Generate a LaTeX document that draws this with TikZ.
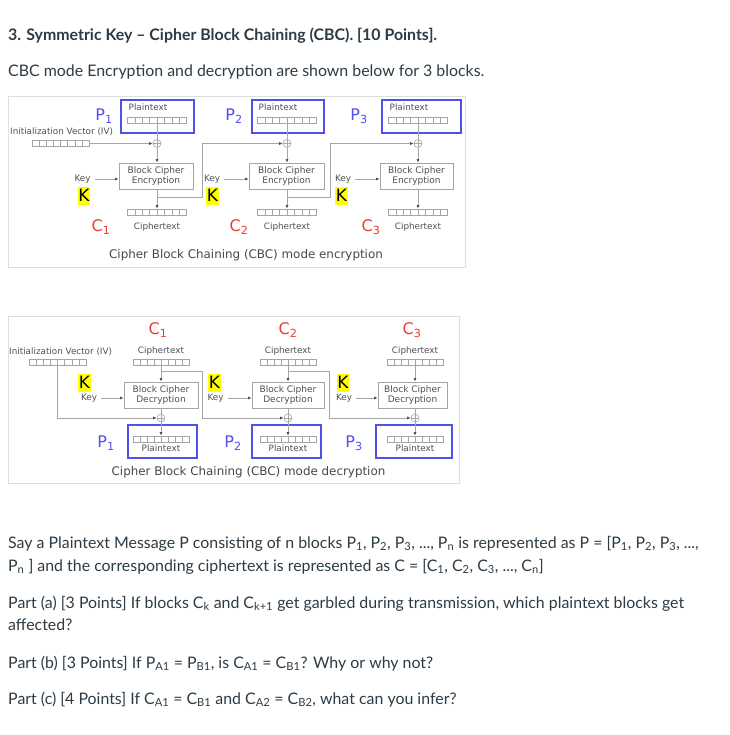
\documentclass[tikz,border=0pt]{standalone}
\usepackage{fontspec}
\setmainfont{Lato}
\newfontfamily\dv{DejaVu Sans}
\usetikzlibrary{arrows.meta,calc}
\definecolor{txt}{HTML}{2D3B45}
\definecolor{pblue}{RGB}{80,80,235}
\definecolor{cred}{RGB}{235,60,50}
\definecolor{kyel}{RGB}{255,255,0}
\definecolor{lgray}{RGB}{165,165,165}
\definecolor{dgray}{RGB}{80,80,80}
\definecolor{framec}{RGB}{222,222,222}
\newcommand{\mysub}[1]{\textsubscript{#1}}
\tikzset{
  bodytxt/.style={anchor=base west, inner sep=0, text=txt, font=\fontsize{15.9}{18}\selectfont},
  lbl/.style={font=\dv\fontsize{8.8}{9.5}\selectfont, text=dgray, inner sep=0},
  captxt/.style={font=\dv\fontsize{11.9}{13}\selectfont, text=dgray!90!black, inner sep=0},
  cipherbox/.style={draw=lgray, line width=0.7pt, font=\dv\fontsize{9}{10}\selectfont, text=dgray, align=center, minimum height=26, inner sep=0},
  ptbox/.style={draw=pblue, line width=1.2pt, minimum height=33, inner sep=0},
  cellrow/.style={draw=lgray, line width=0.6pt, minimum width=59, minimum height=6, inner sep=0,
    path picture={\foreach \j in {1,...,7}{\draw[lgray,line width=0.5pt]
      ($(path picture bounding box.south west)!\j/8!(path picture bounding box.south east)$) --
      ($(path picture bounding box.north west)!\j/8!(path picture bounding box.north east)$);}}},
  xorc/.style={circle, draw=lgray, line width=0.6pt, minimum size=8, inner sep=0,
    path picture={\draw[lgray,line width=0.6pt] (path picture bounding box.north) -- (path picture bounding box.south)
      (path picture bounding box.west) -- (path picture bounding box.east);}},
  ln/.style={draw=lgray, line width=0.7pt},
  arr/.style={draw=lgray, line width=0.7pt, -{Latex[length=3.5pt,width=3pt,color=dgray]}},
  plab/.style={font=\dv\fontsize{16}{16}\selectfont, text=pblue, inner sep=0},
  clab/.style={font=\dv\fontsize{16}{16}\selectfont, text=cred, inner sep=0},
  kbox/.style={fill=kyel, font=\dv\fontsize{17}{17}\selectfont, text=black, text height=13, text depth=3, inner xsep=0.5, inner ysep=1},
  panelbox/.style={draw=framec, line width=0.8pt, inner sep=0}
}
\begin{document}
\begin{tikzpicture}[x=1pt,y=-1pt]
\useasboundingbox (0,0) rectangle (729,735);
\fill[white] (0,0) rectangle (729,735);

% header
\node[bodytxt, font=\fontsize{15.9}{18}\selectfont\bfseries] (title) at (8,41) {3. Symmetric Key – Cipher Block Chaining (CBC). [10 Points].};
\node[bodytxt] (intro) at (8,77) {CBC mode Encryption and decryption are shown below for 3 blocks.};

% ---------- encryption ----------
\node[panelbox, minimum width=457, minimum height=171] (encpanel) at (236.5,181.5) {};
\node[lbl, anchor=west] (ivle) at (10,132) {Initialization Vector (IV)};
\node[cellrow, minimum width=57] (ive) at (60.5,143.5) {};

\foreach \i/\cx/\pl/\cl/\kx/\kk/\bl/\br/\ptl/\ptr in {
  1/157/104/101/82.5/84/119/193/121/194,
  2/287/234/239/212/212.5/249/324/252/324,
  3/418/359/371/343/341.5/380/453/382/461}{
  \node[ptbox, minimum width={\ptr-\ptl}] (pe\i) at ({(\ptl+\ptr)/2},116.5) {};
  \node[cellrow] (pc\i) at (\cx,120) {};
  \node[lbl, anchor=base west] (pt\i) at ({\cx-28.5},111) {Plaintext};
  \node[xorc] (xe\i) at (\cx,143.5) {};
  \node[cipherbox, minimum width={\br-\bl}] (be\i) at ({(\bl+\br)/2},176) {Block Cipher\\Encryption};
  \node[cellrow] (ce\i) at (\cx,212) {};
  \node[lbl] (ct\i) at (\cx,227) {Ciphertext};
  \node[plab] (P\i) at (\pl,116) {P\mysub{\i}};
  \node[clab] (C\i) at (\cl,227) {C\mysub{\i}};
  \node[lbl] (key\i) at (\kx,179) {Key};
  \node[kbox] (K\i) at (\kk,196) {K};
  \draw[ln] (pc\i.south) -- (xe\i.north);
  \draw[arr] (xe\i.south) -- (be\i.north -| xe\i);
  \draw[arr] (be\i.south -| ce\i) -- (ce\i.north);
  \draw[arr] ([xshift=4pt]key\i.east) -- (key\i.east -| be\i.west);
}
\draw[arr] (ive.east) -- (xe1.west);
\coordinate (je1) at (157,197);
\coordinate (he1) at (202,197);
\draw[arr] (je1) -- (he1) |- (xe2.west);
\coordinate (je2) at (287,197);
\coordinate (he2) at (330,197);
\draw[arr] (je2) -- (he2) |- (xe3.west);
\node[captxt] (cape) at (246,255) {Cipher Block Chaining (CBC) mode encryption};

% ---------- decryption ----------
\node[panelbox, minimum width=451, minimum height=167] (decpanel) at (233.5,399.5) {};
\node[lbl, anchor=west] (ivld) at (9,352) {Initialization Vector (IV)};
\node[cellrow, minimum width=57] (ivd) at (57.5,362) {};

\foreach \i/\cx/\pl/\cl/\kk/\kx/\bl/\br/\ptl/\ptr in {
  1/161/106/158/84.5/89/124/198/128/197,
  2/288/233/288/214.5/215.5/252/324/252/321,
  3/415/354/412/343/344/378/447/376/452}{
  \node[clab] (DC\i) at (\cl,330) {C\mysub{\i}};
  \node[lbl] (dct\i) at (\cx,351) {Ciphertext};
  \node[cellrow, minimum width=56] (dc\i) at (\cx,362) {};
  \node[cipherbox, minimum width={\br-\bl}] (bd\i) at ({(\bl+\br)/2},395) {Block Cipher\\Decryption};
  \node[xorc] (xd\i) at (\cx,418) {};
  \node[ptbox, minimum width={\ptr-\ptl}] (pd\i) at ({(\ptl+\ptr)/2},441.5) {};
  \node[cellrow, minimum width=56] (dp\i) at (\cx,439) {};
  \node[lbl] (dpt\i) at (\cx,448.5) {Plaintext};
  \node[plab] (DP\i) at (\pl,443) {P\mysub{\i}};
  \node[kbox] (DK\i) at (\kk,383) {K};
  \node[lbl] (dkey\i) at (\kx,398) {Key};
  \draw[arr] (dc\i.south) -- (bd\i.north -| dc\i);
  \draw[ln] (bd\i.south -| xd\i) -- (xd\i.north);
  \draw[arr] (xd\i.south) -- (dp\i.north);
  \draw[arr] ([xshift=4pt]dkey\i.east) -- (dkey\i.east -| bd\i.west);
}
\draw[arr] (ivd.south) |- (xd1.west);
\coordinate (jd1) at (161,371);
\coordinate (hd1) at (202,371);
\draw[arr] (jd1) -- (hd1) |- (xd2.west);
\coordinate (jd2) at (288,371);
\coordinate (hd2) at (329,371);
\draw[arr] (jd2) -- (hd2) |- (xd3.west);
\node[captxt] (capd) at (248.5,472) {Cipher Block Chaining (CBC) mode decryption};

% ---------- questions ----------
\node[bodytxt] (q1) at (8,548) {Say a Plaintext Message P consisting of n blocks P\mysub{1}, P\mysub{2}, P\mysub{3}, ..., P\mysub{n} is represented as P = [P\mysub{1}, P\mysub{2}, P\mysub{3}, ...,};
\node[bodytxt] (q2) at (8,571) {P\mysub{n} ] and the corresponding ciphertext is represented as C = [C\mysub{1}, C\mysub{2}, C\mysub{3}, ..., C\mysub{n}]};
\node[bodytxt] (qa) at (8,608) {Part (a) [3 Points] If blocks C\mysub{k} and C\mysub{k+1} get garbled during transmission, which plaintext blocks get};
\node[bodytxt] (qa2) at (8,630) {affected?};
\node[bodytxt] (qb) at (8,668) {Part (b) [3 Points] If P\mysub{A1} = P\mysub{B1}, is C\mysub{A1} = C\mysub{B1}? Why or why not?};
\node[bodytxt] (qc) at (8,704) {Part (c) [4 Points] If C\mysub{A1} = C\mysub{B1} and C\mysub{A2} = C\mysub{B2}, what can you infer?};
\end{tikzpicture}
\end{document}
